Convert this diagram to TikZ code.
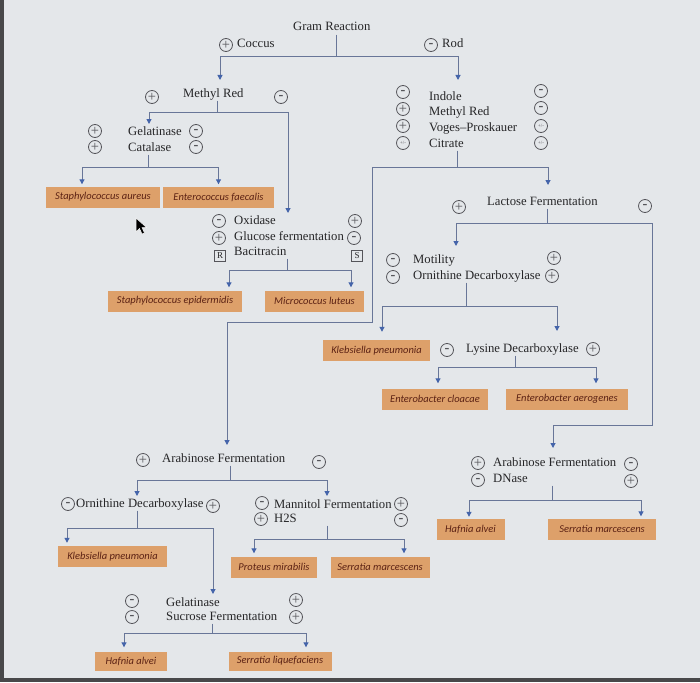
\documentclass[tikz,border=0pt]{standalone}
\usepackage{fontspec}
\setmainfont{Liberation Serif}
\newfontfamily\speciesfont{Carlito}
\usetikzlibrary{arrows.meta}
\definecolor{screenGray}{RGB}{228,231,234}
\definecolor{frameGray}{RGB}{72,72,74}
\definecolor{flowLine}{RGB}{104,118,152}
\definecolor{flowTip}{RGB}{68,100,170}
\definecolor{signGray}{RGB}{85,85,90}
\definecolor{labelText}{RGB}{38,38,40}
\definecolor{speciesFill}{RGB}{221,160,106}
\definecolor{speciesText}{RGB}{92,34,20}

\begin{document}
\begin{tikzpicture}[x=1pt, y=-1pt, font=\fontsize{12.7}{14}\selectfont]
    \tikzstyle{test} = [anchor=west, inner sep=1pt, text=labelText, text height=8.5pt, text depth=2.5pt]
    \tikzstyle{sign} = [circle, draw=signGray, line width=0.8pt, minimum size=13pt, inner sep=0pt, text=signGray, font=\fontsize{14.5}{14.5}\selectfont]
    \tikzstyle{pm} = [sign, font=\fontsize{5}{5}\selectfont]
    \tikzstyle{disc} = [draw=signGray, line width=0.6pt, minimum size=11pt, inner sep=0pt, text=labelText, font=\fontsize{9}{9}\selectfont]
    \tikzstyle{species} = [fill=speciesFill, text=speciesText, minimum height=21pt, inner sep=0pt, font=\speciesfont\itshape\fontsize{10.5}{11}\selectfont]
    \tikzstyle{link} = [draw=flowLine, line width=1pt]
    \tikzstyle{arrow} = [link, -{Triangle[width=5pt, length=5pt, color=flowTip]}]

    \fill[frameGray] (0,0) rectangle (700,682);
    \fill[screenGray] (4,0) rectangle (700,678);
    \useasboundingbox (0,0) rectangle (700,682);

    \node[test] (gram) at (292,28) {Gram Reaction};
    \node[sign] (coccusP) at (226,45) {+};
    \node[test] (coccus) at (236,45) {Coccus};
    \node[sign] (rodM) at (431,45) {\textbf{-}};
    \node[test] (rod) at (441,45) {Rod};
    \coordinate (gramBar) at (336,57);
    \coordinate (mrIn) at (220,80);
    \coordinate (indIn) at (458,80);
    \draw[link] (gram.south -| gramBar) -- (gramBar);
    \draw[arrow] (gramBar) -| (mrIn);
    \draw[arrow] (gramBar) -| (indIn);

    \node[sign] (mrP) at (152,97) {+};
    \node[test] (mr) at (182,94) {Methyl Red};
    \node[sign] (mrM) at (281,97) {\textbf{-}};
    \coordinate (mrBar) at (217,112);
    \coordinate (gelIn) at (149,124);
    \coordinate (oxiIn) at (288,213);
    \draw[link] (mr.south -| mrBar) -- (mrBar);
    \draw[arrow] (mrBar) -| (gelIn);
    \draw[arrow] (mrBar) -| (oxiIn);

    \node[sign] (gelP) at (95,131) {+};
    \node[sign] (catP) at (95,147) {+};
    \node[test] (gel) at (127,132) {Gelatinase};
    \node[test] (cat) at (127,148) {Catalase};
    \node[sign] (gelM) at (196,131) {\textbf{-}};
    \node[sign] (catM) at (196,147) {\textbf{-}};
    \coordinate (catBar) at (148,167);
    \node[species, minimum width=114pt] (saureus) at (103,197) {Staphylococcus aureus};
    \node[species, minimum width=111pt] (efaecalis) at (218.5,197) {Enterococcus faecalis};
    \draw[link] (cat.south -| catBar) -- (catBar);
    \draw[arrow, shorten >=2pt] (catBar) -| ([xshift=-21pt]saureus.north);
    \draw[arrow, shorten >=2pt] (catBar) -| (efaecalis.north);

    \filldraw[fill=black, draw=white, line width=0.5pt] (136,218) -- (136,232) -- (139.5,228.5) -- (142,234) -- (144.5,233) -- (142,227.5) -- (146.5,227.5) -- cycle;

    \node[sign] (oxiM) at (219,221) {\textbf{-}};
    \node[sign] (gluP) at (219,238) {+};
    \node[disc] (bacR) at (220,256) {R};
    \node[test] (oxi) at (233,221) {Oxidase};
    \node[test] (glu) at (233,237) {Glucose fermentation};
    \node[test] (bac) at (233,252) {Bacitracin};
    \node[sign] (oxiP) at (355,221) {+};
    \node[sign] (gluM) at (354,238) {\textbf{-}};
    \node[disc] (bacS) at (357,256) {S};
    \coordinate (bacBar) at (287,270);
    \node[species, minimum width=134pt] (sepi) at (175,301) {Staphylococcus epidermidis};
    \node[species, minimum width=99pt] (mlut) at (314.5,301) {Micrococcus luteus};
    \draw[link] (bac.south -| bacBar) -- (bacBar);
    \draw[arrow, shorten >=3pt] (bacBar) -| ([xshift=54pt]sepi.north);
    \draw[arrow, shorten >=3pt] (bacBar) -| ([xshift=36.5pt]mlut.north);

    \node[sign] (indM) at (403,92) {\textbf{-}};
    \node[sign] (mr2P) at (403,109) {+};
    \node[sign] (vpP) at (403,126) {+};
    \node[pm] (citPM) at (403,143) {+/-};
    \node[test] (ind) at (428,97) {Indole};
    \node[test] (mr2) at (428,112) {Methyl Red};
    \node[test] (vp) at (428,128) {Voges--Proskauer};
    \node[test] (cit) at (428,144) {Citrate};
    \node[sign] (indM2) at (541,91) {\textbf{-}};
    \node[sign] (mr2M) at (541,108) {\textbf{-}};
    \node[pm] (vpPM) at (541,126) {+/-};
    \node[pm] (citPM2) at (541,143) {+/-};
    \coordinate (citBar) at (457,167);
    \coordinate (lacIn) at (548,185);
    \coordinate (citTurn) at (372,322);
    \coordinate (araIn) at (227,445);
    \draw[link] (cit.south -| citBar) -- (citBar);
    \draw[arrow] (citBar) -| (lacIn);
    \draw[arrow] (citBar) -| (citTurn) -| (araIn);

    \node[sign] (lacP) at (459,207) {+};
    \node[test] (lac) at (486,202) {Lactose Fermentation};
    \node[sign] (lacM) at (645,206) {\textbf{-}};
    \coordinate (lacBar) at (547,223);
    \coordinate (motIn) at (456,246);
    \coordinate (lacTurn) at (652,425);
    \coordinate (dnaIn) at (553,448);
    \draw[link] (lac.south -| lacBar) -- (lacBar);
    \draw[arrow] (lacBar) -| (motIn);
    \draw[arrow] (lacBar) -| (lacTurn) -| (dnaIn);

    \node[sign] (motM) at (393,260) {\textbf{-}};
    \node[sign] (ornM) at (393,277) {\textbf{-}};
    \node[test] (mot) at (412,260) {Motility};
    \node[test] (orn) at (412,276) {Ornithine Decarboxylase};
    \node[sign] (motP) at (554,258) {+};
    \node[sign] (ornP) at (552,276) {+};
    \coordinate (ornBar) at (466,306);
    \coordinate (lysIn) at (557,331);
    \node[species, minimum width=107pt] (kpneu) at (376.5,350.5) {Klebsiella pneumonia};
    \draw[link] (orn.south -| ornBar) -- (ornBar);
    \draw[arrow, shorten >=8pt] (ornBar) -| ([xshift=5.5pt]kpneu.north);
    \draw[arrow] (ornBar) -| (lysIn);

    \node[sign] (lysM) at (447,350) {\textbf{-}};
    \node[test] (lys) at (465,349) {Lysine Decarboxylase};
    \node[sign] (lysP) at (593,349) {+};
    \coordinate (lysBar) at (515,367);
    \node[species, minimum width=106pt] (eclo) at (435,399) {Enterobacter cloacae};
    \node[species, minimum width=122pt] (eaer) at (567,399) {Enterobacter aerogenes};
    \draw[link] (lys.south -| lysBar) -- (lysBar);
    \draw[arrow, shorten >=5pt] (lysBar) -| ([xshift=3pt]eclo.north);
    \draw[arrow, shorten >=5pt] (lysBar) -| ([xshift=29pt]eaer.north);

    \node[sign] (ara2P) at (478,463) {+};
    \node[test] (ara2) at (492,463) {Arabinose Fermentation};
    \node[sign] (ara2M) at (631,464) {\textbf{-}};
    \node[sign] (dnaM) at (478,480) {\textbf{-}};
    \node[test] (dna) at (492,479) {DNase};
    \node[sign] (dnaP) at (631,481) {+};
    \coordinate (dnaBar) at (552,500);
    \node[species, minimum width=68pt] (halvei) at (470.5,529.5) {Hafnia alvei};
    \node[species, minimum width=108pt] (smarc) at (602,529) {Serratia marcescens};
    \draw[link] (dna.south -| dnaBar) -- (dnaBar);
    \draw[arrow, shorten >=2pt] (dnaBar) -| ([xshift=-1.5pt]halvei.north);
    \draw[arrow, shorten >=2pt] (dnaBar) -| ([xshift=39pt]smarc.north);

    \node[sign] (araP) at (143,460) {+};
    \node[test] (ara) at (161,459) {Arabinose Fermentation};
    \node[sign] (araM) at (319,462) {\textbf{-}};
    \coordinate (araBar) at (230,480);
    \coordinate (orn2In) at (137,496);
    \coordinate (manIn) at (327,496);
    \draw[link] (ara.south -| araBar) -- (araBar);
    \draw[arrow] (araBar) -| (orn2In);
    \draw[arrow] (araBar) -| (manIn);

    \node[sign] (orn2M) at (68,504) {\textbf{-}};
    \node[test] (orn2) at (75,504) {Ornithine Decarboxylase};
    \node[sign] (orn2P) at (213,506) {+};
    \node[sign] (manM) at (262,503) {\textbf{-}};
    \node[test] (man) at (273,505) {Mannitol Fermentation};
    \node[sign] (manP) at (401,504) {+};
    \node[sign] (hsP) at (261,519) {+};
    \node[test] (hs) at (273,519) {H2S};
    \node[sign] (hsM) at (401,520) {\textbf{-}};

    \coordinate (manBar) at (327,539);
    \node[species, minimum width=86pt] (pmir) at (274,567) {Proteus mirabilis};
    \node[species, minimum width=99pt] (smarc2) at (380,567) {Serratia marcescens};
    \draw[link] (hs.south -| manBar) -- (manBar);
    \draw[arrow, shorten >=3pt] (manBar) -| ([xshift=-20pt]pmir.north);
    \draw[arrow, shorten >=3pt] (manBar) -| ([xshift=24pt]smarc2.north);

    \coordinate (orn2Bar) at (137,528);
    \coordinate (gel2In) at (213,594);
    \node[species, minimum width=109pt] (kpneu2) at (112.5,556.5) {Klebsiella pneumonia};
    \draw[link] (orn2.south -| orn2Bar) -- (orn2Bar);
    \draw[arrow, shorten >=3pt] (orn2Bar) -| ([xshift=-45.5pt]kpneu2.north);
    \draw[arrow] (orn2Bar) -| (gel2In);

    \node[sign] (gel2M) at (132,601) {\textbf{-}};
    \node[sign] (sucM) at (132,617) {\textbf{-}};
    \node[test] (gel2) at (165,603) {Gelatinase};
    \node[test] (suc) at (165,617) {Sucrose Fermentation};
    \node[sign] (gel2P) at (296,600) {+};
    \node[sign] (sucP) at (296,617) {+};
    \coordinate (sucBar) at (212,633);
    \node[species, minimum width=72pt, minimum height=19pt] (halvei2) at (131,661) {Hafnia alvei};
    \node[species, minimum width=103pt, minimum height=19pt] (sliq) at (280,661) {Serratia liquefaciens};
    \draw[link] (suc.south -| sucBar) -- (sucBar);
    \draw[arrow, shorten >=4pt] (sucBar) -| ([xshift=-7pt]halvei2.north);
    \draw[arrow, shorten >=4pt] (sucBar) -| ([xshift=26pt]sliq.north);
\end{tikzpicture}
\end{document}
